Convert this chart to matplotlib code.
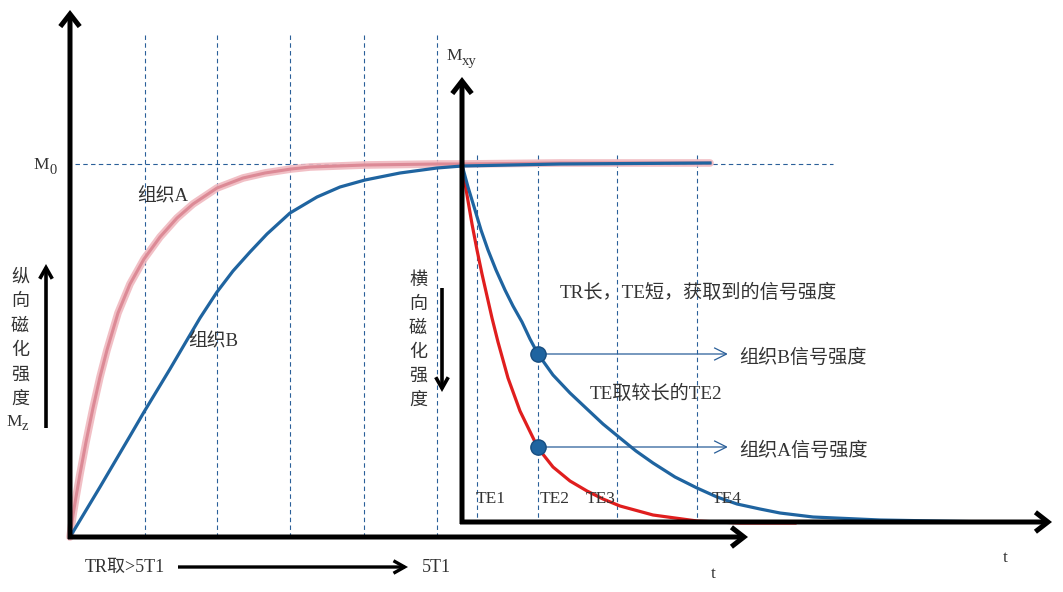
import matplotlib.pyplot as plt

# all values, in picture units (x right, y down)
fig_w, fig_h = 1063, 592

# left panel: Mz recovery
left_origin = (70, 537)
left_y_top = 10
left_x_end = 748
m0_level = 164
m0_line_span = (75, 833)
left_grid_x = [145, 217, 290, 364, 437]
left_grid_top = 35

tissue_a_x = [70, 73, 76, 80, 86, 93, 100, 107, 118, 130, 144, 160, 177, 193, 217, 243, 265, 291, 310, 365, 438, 462, 560, 710]
tissue_a_y = [537, 515, 497, 474, 442, 408, 377, 350, 313, 284, 259, 237, 218, 204, 188, 178, 173, 169, 167, 165, 164, 164, 163, 163]

tissue_b_x = [70, 100, 130, 144, 170, 187, 200, 217, 233, 250, 267, 290, 317, 340, 365, 400, 437, 462, 560, 710]
tissue_b_y = [537, 487, 436, 412, 369, 340, 318, 292, 271, 252, 234, 213, 197, 187, 180, 173, 168, 166, 164, 163]

# right panel: Mxy decay
right_origin = (462, 522)
right_y_top = 77
right_x_end = 1052
right_grid_x = [477, 538, 617, 697]
right_grid_top = 155

decay_a_x = [462, 467, 472, 477, 482, 487, 492, 498, 508, 520, 538, 553, 570, 587, 603, 620, 653, 697, 740, 795]
decay_a_y = [165, 195, 224, 250, 274, 296, 318, 342, 378, 411, 448, 467, 481, 491, 499, 506, 515, 521, 523, 523]

decay_b_x = [462, 468, 475, 481, 488, 496, 505, 513, 522, 530, 538, 553, 570, 587, 603, 620, 636, 653, 675, 697, 717, 737, 760, 780, 813, 880, 993]
decay_b_y = [165, 187, 210, 230, 250, 270, 290, 306, 322, 339, 354, 375, 393, 409, 424, 438, 451, 463, 477, 488, 497, 504, 509, 513, 517, 520, 522]

te_points_x = [538, 538]
te_points_y = [354, 447]
te_arrow_end = 728
te_names = ["组织B信号强度", "组织A信号强度"]
te_labels = ["TE1", "TE2", "TE3", "TE4"]
te_label_x = [476, 540, 586, 712]

ink = "#333333"
blue = "#1f64a0"
grid_blue = "#2a5f99"
fonts = ["Liberation Serif", "Noto Sans CJK SC"]
plt.rcParams["font.family"] = fonts

fig = plt.figure(figsize=(fig_w / 100, fig_h / 100), dpi=100)
ax = fig.add_axes([0, 0, 1, 1])
ax.set_xlim(0, fig_w)
ax.set_ylim(fig_h, 0)
ax.axis("off")


def arrow(x0, y0, x1, y1, lw=3.6, color="black", hl=0.9, hw=0.7, style=None):
    ax.annotate("", xy=(x1, y1), xytext=(x0, y0),
                arrowprops=dict(arrowstyle=style or f"->,head_length={hl},head_width={hw}",
                                lw=lw, color=color, shrinkA=0, shrinkB=0,
                                joinstyle="miter", capstyle="butt"))


def sub_label(x, y, main, sub):
    # "M" plus a near full size subscript, like the word-processor original
    ax.text(x, y, main, fontsize=12.5, color=ink, ha="right", va="center")
    ax.text(x, y + 5, sub, fontsize=10.5, color=ink, ha="left", va="center")


# dashed guides
for gx in left_grid_x:
    ax.plot([gx, gx], [left_grid_top, left_origin[1]], ls=(0, (4, 3)), lw=0.8, color=grid_blue)
for gx in right_grid_x:
    ax.plot([gx, gx], [right_grid_top, right_origin[1]], ls=(0, (4, 3)), lw=0.8, color=grid_blue)
ax.plot(m0_line_span, [m0_level, m0_level], ls=(0, (4, 3)), lw=0.8, color=grid_blue)

# curves
ax.plot(tissue_a_x, tissue_a_y, color="#f0b8bf", lw=5.5, solid_capstyle="round", solid_joinstyle="round", alpha=0.9)
ax.plot(tissue_a_x, tissue_a_y, color="#dc8a96", lw=2.2, solid_capstyle="round", solid_joinstyle="round")
ax.plot(tissue_b_x, tissue_b_y, color=blue, lw=2.3, solid_joinstyle="round")
ax.plot(decay_a_x, decay_a_y, color="#e01e1e", lw=2.3, solid_joinstyle="round")
ax.plot(decay_b_x, decay_b_y, color=blue, lw=2.3, solid_joinstyle="round")

# axes
arrow(left_origin[0], left_origin[1] + 2, left_origin[0], left_y_top)
arrow(left_origin[0] - 2, left_origin[1], left_x_end, left_origin[1])
arrow(right_origin[0], right_origin[1] + 2, right_origin[0], right_y_top)
arrow(right_origin[0] - 2, right_origin[1], right_x_end, right_origin[1])

# signal points and pointers
for px, py, name in zip(te_points_x, te_points_y, te_names):
    arrow(px, py, te_arrow_end, py, lw=0.9, color=grid_blue, style="->,head_length=0.9,head_width=0.45")
    ax.text(te_arrow_end + 11, py + 4, name, fontsize=13.8, color=ink, va="center", ha="left")
ax.plot(te_points_x, te_points_y, "o", ms=11, color=blue, mec="#174d80", zorder=5)

for tx, tl in zip(te_label_x, te_labels):
    ax.text(tx, 499, tl, fontsize=12.5, color=ink, va="center", ha="left")

# text labels
sub_label(49, 165, "M", "0")
sub_label(462, 56, "M", "xy")
sub_label(22, 422, "M", "z")
ax.text(137, 197, "组织A", fontsize=13.5, color=ink, va="center")
ax.text(188, 342, "组织B", fontsize=13.5, color=ink, va="center")
ax.text(560, 293, "TR长，TE短，获取到的信号强度", fontsize=13.8, color=ink, va="center")
ax.text(590, 394, "TE取较长的TE2", fontsize=13.8, color=ink, va="center")

for i, ch in enumerate("纵向磁化强度"):
    ax.text(20, 277 + i * 24.5, ch, fontsize=13, color=ink, ha="center", va="center")
arrow(46, 428, 46, 264, lw=2.6, hl=0.8, hw=0.45)

for i, ch in enumerate("横向磁化强度"):
    ax.text(418, 280 + i * 24, ch, fontsize=13, color=ink, ha="center", va="center")
arrow(442, 288, 442, 392, lw=2.6, hl=0.8, hw=0.45)

ax.text(85, 567, "TR取>5T1", fontsize=13, color=ink, va="center")
arrow(178, 567, 408, 567, lw=2.4, hl=0.8, hw=0.45)
ax.text(422, 567, "5T1", fontsize=13, color=ink, va="center")
ax.text(713, 574, "t", fontsize=12.5, color=ink, ha="center", va="center")
ax.text(1005, 558, "t", fontsize=12.5, color=ink, ha="center", va="center")

fig.savefig("out.png", dpi=100)
